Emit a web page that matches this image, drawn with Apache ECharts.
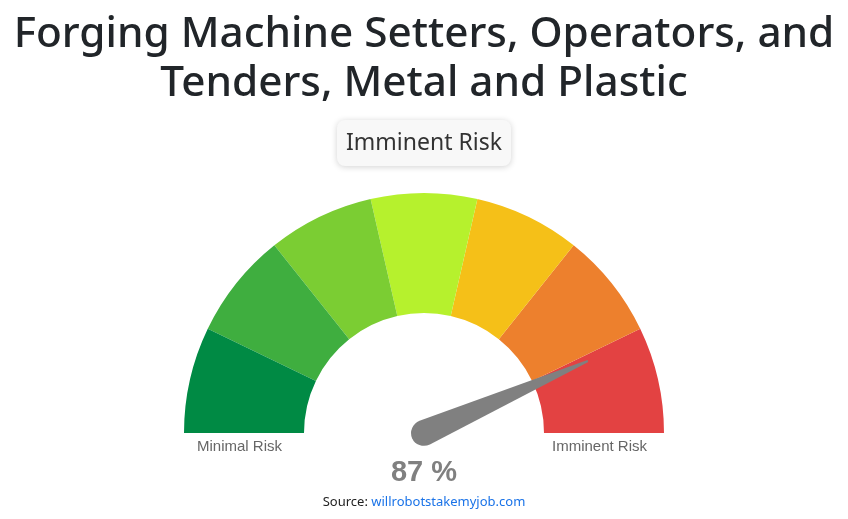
<!DOCTYPE html>
<html>
<head>
<meta charset="utf-8">
<script src="https://cdn.jsdelivr.net/npm/echarts@6/dist/echarts.min.js"></script>
<style>
html,body{margin:0;padding:0;background:#fff;}
#chart{width:848px;height:519px;}
</style>
</head>
<body>
<div id="chart"></div>
<script>
const titleLines = ['Forging Machine Setters, Operators, and', 'Tenders, Metal and Plastic'];
const riskLabel = 'Imminent Risk';
const riskValue = [87];
const bandColors = ['#008a44', '#3fae3f', '#7bcd33', '#b6f12d', '#f5c018', '#ed802d', '#e34242'];
const endLabels = ['Minimal Risk', 'Imminent Risk'];
const sourceText = 'Source: ';
const sourceLink = 'willrobotstakemyjob.com';

const chart = echarts.init(document.getElementById('chart'), null, {renderer: 'canvas'});
const stops = bandColors.map((c, i) => [(i + 1) / bandColors.length, c]);
const cx = 424, cy = 433, R = 240, W = 120;

chart.setOption({
  animation: false,
  title: [
    {
      text: titleLines.join('\n'),
      left: 'center', top: 5,
      textStyle: {fontFamily: 'Noto Sans', fontSize: 42.3, fontWeight: 500, color: '#212529', lineHeight: 49}
    },
    {
      text: riskLabel,
      left: 'center', top: 120,
      backgroundColor: '#f8f8f8',
      borderRadius: 8,
      padding: [9, 9, 9, 9],
      shadowColor: 'rgba(0,0,0,0.18)', shadowBlur: 6, shadowOffsetY: 1,
      textStyle: {fontFamily: 'Noto Sans', fontSize: 23, fontWeight: 'normal', color: '#333', lineHeight: 28}
    },
    {
      text: '{a|' + sourceText + '}{b|' + sourceLink + '}',
      left: 'center', top: 491,
      textStyle: {
        fontWeight: 'normal',
        rich: {
          a: {fontFamily: 'Noto Sans', fontSize: 13, fontWeight: 'normal', color: '#222'},
          b: {fontFamily: 'Noto Sans', fontSize: 13, fontWeight: 'normal', color: '#1a73e8'}
        }
      }
    }
  ],
  graphic: [
    {type: 'text', left: cx - R + W / 2 - 47, top: 439,
     style: {text: endLabels[0], font: '15px "Liberation Sans", Arial', fill: '#666'}},
    {type: 'text', left: cx + R - W / 2 - 52, top: 439,
     style: {text: endLabels[1], font: '15px "Liberation Sans", Arial', fill: '#666'}}
  ],
  series: [{
    type: 'gauge',
    center: [cx, cy],
    radius: R,
    startAngle: 180, endAngle: 0,
    min: 0, max: 100,
    axisLine: {lineStyle: {width: W, color: stops}},
    splitLine: {show: false},
    axisTick: {show: false},
    axisLabel: {show: false},
    pointer: {
      icon: 'path://M11 0 L13 0 L26 168 A13 13 0 0 1 0 168 Z',
      length: 192,
      width: 26,
      offsetCenter: [0, 13],
      itemStyle: {color: '#808080'}
    },
    anchor: {show: false},
    title: {show: false},
    detail: {
      valueAnimation: false,
      offsetCenter: [0, 40],
      formatter: '{value} %',
      fontFamily: 'Liberation Sans',
      fontSize: 29, fontWeight: 'bold', color: '#808080'
    },
    data: [{value: riskValue[0]}]
  }]
});
</script>
</body>
</html>
